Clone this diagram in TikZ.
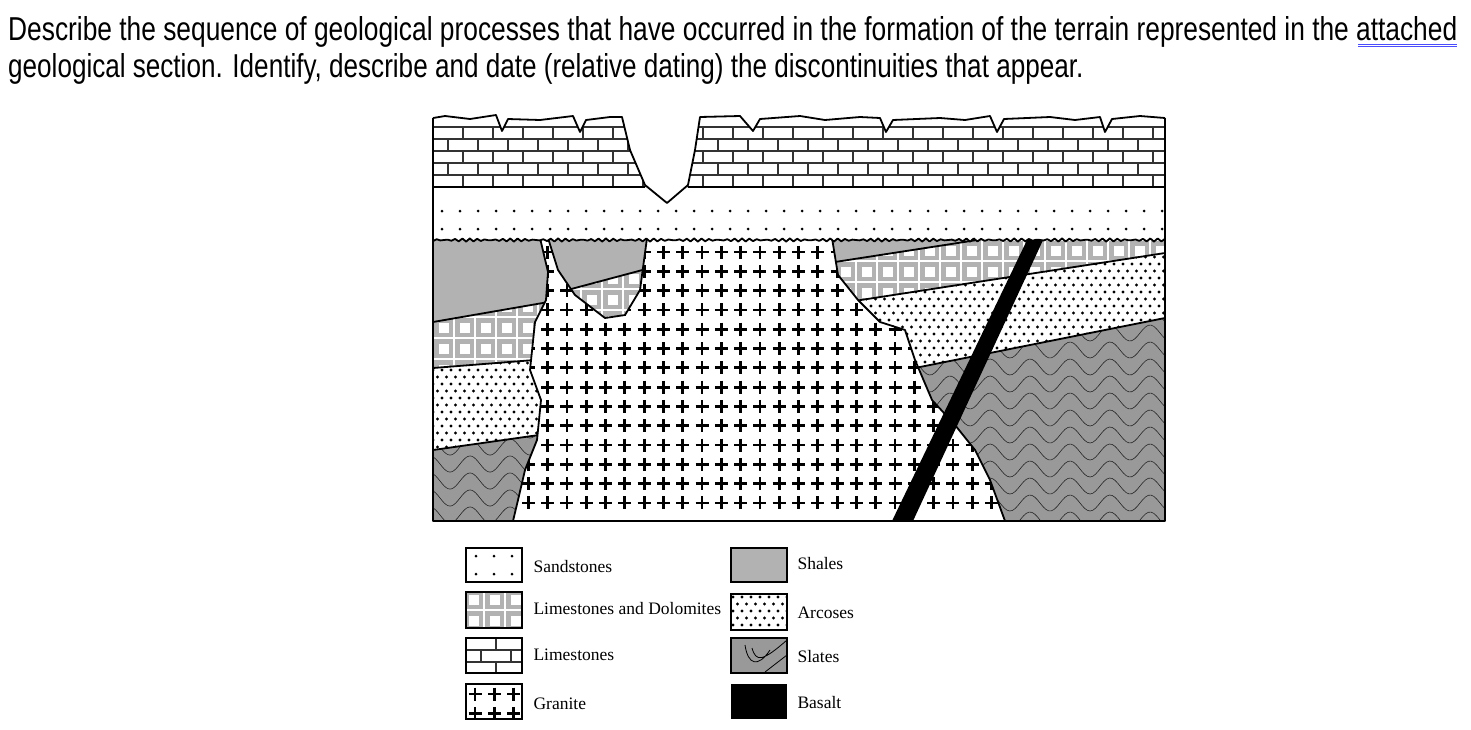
\documentclass[tikz,border=0pt]{standalone}
\usepackage{fontspec}
\setmainfont{Liberation Serif}
\newfontfamily\titlefont{Liberation Sans}
\newcommand\gsand[4]{\pgfmathtruncatemacro\gnx{(#3-#1)/18}\pgfmathtruncatemacro\gny{(#4-#2)/18}%
 \foreach \i in {0,...,\gnx}{\foreach \j in {0,...,\gny}{\fill ({#1+\i*18},{#2+\j*18}) circle (1.5);}}}
\newcommand\garc[4]{\pgfmathtruncatemacro\gnx{(#3-#1)/9}\pgfmathtruncatemacro\gny{(#4-#2)/7}%
 \foreach \j in {0,...,\gny}{\foreach \i in {0,...,\gnx}{\fill ({#1+\i*9+mod(\j,2)*4.5},{#2+\j*7}) circle (1.6);}}}
\newcommand\gbrick[4]{\pgfmathtruncatemacro\gnx{(#3-#1)/30+1}\pgfmathtruncatemacro\gny{(#4-#2)/12}%
 \foreach \j in {0,...,\gny}{\draw[brickline] (#1,{#2+\j*12}) -- (#3,{#2+\j*12});
 \foreach \i in {0,...,\gnx}{\draw[brickline] ({#1+\i*30+mod(\j,2)*15},{#2+\j*12}) -- ++(0,12);}}}
\newcommand\gcross[4]{\pgfmathtruncatemacro\gnx{(#3-#1)/19.3}\pgfmathtruncatemacro\gny{(#4-#2)/19.3}%
 \foreach \i in {0,...,\gnx}{\foreach \j in {0,...,\gny}{\draw[line width=2.8pt] ({#1+\i*19.3-6.5},{#2+\j*19.3}) -- ++(13,0) ({#1+\i*19.3},{#2+\j*19.3-6.5}) -- ++(0,13);}}}
\newcommand\gdolo[4]{\fill[shalegray] (#1,#2) rectangle (#3,#4);\pgfmathtruncatemacro\gnx{(#3-#1)/21+1}\pgfmathtruncatemacro\gny{(#4-#2)/21+1}%
 \foreach \i in {0,...,\gnx}{\draw[white,line width=2.5pt] ({#1+\i*21},#2) -- ({#1+\i*21},#4);}
 \foreach \j in {0,...,\gny}{\draw[white,line width=2.5pt] (#1,{#2+\j*21}) -- (#3,{#2+\j*21});}
 \foreach \i in {0,...,\gnx}{\foreach \j in {0,...,\gny}{\fill[white] ({#1+\i*21+5.5},{#2+\j*21+5.5}) rectangle ++(10,10);}}}
\newcommand\gslate[4]{\fill[slategray] (#1,#2) rectangle (#3,#4);\pgfmathtruncatemacro\gny{(#4-#2)/17+1}%
 \foreach \j in {0,...,\gny}{\draw[gray!30!black,line width=0.6pt] plot[domain=#1:#3,samples=120] (\x,{#2+\j*17+8*sin(mod(\x,40)*9)});}}
\definecolor{shalegray}{gray}{0.7}
\definecolor{slategray}{gray}{0.6}
\tikzset{brickline/.style={line width=1.4pt,black!80},
 bound/.style={line width=1.8pt,line join=round},
 legbox/.style={line width=2pt},
 legtxt/.style={anchor=west,font=\fontsize{17.5}{20}\selectfont}}
\begin{document}
\begin{tikzpicture}[x=1pt,y=-1pt]
\useasboundingbox (0,0) rectangle (1471,729);
\node[anchor=base west,inner sep=0] (t1) at (8,40) {\resizebox{1449pt}{24pt}{\titlefont Describe the sequence of geological processes that have occurred in the formation of the terrain represented in the attached}};
\node[anchor=base west,inner sep=0] (t2) at (8,77) {\resizebox{1075pt}{24pt}{\titlefont geological section. Identify, describe and date (relative dating) the discontinuities that appear.}};
\draw[blue!70,line width=0.7pt] (1358,44) -- (1457,44) (1358,46.5) -- (1457,46.5);
% left zone
\begin{scope}
\clip (433,238) -- (540,238) -- (548,272) -- (546,300) -- (535,322) -- (530,370) -- (541,400) -- (537,440) -- (525,470) -- (518,500) -- (513,521) -- (433,521) -- cycle;
\fill[shalegray] (433,238) rectangle (560,521);
\begin{scope}\clip (433,322) -- (560,300) -- (560,358) -- (433,368) -- cycle; \gdolo{433}{296}{560}{370}\end{scope}
\begin{scope}\clip (433,368) -- (560,358) -- (560,432) -- (433,450) -- cycle; \fill[white] (433,355) rectangle (560,452); \garc{433}{356}{560}{452}\end{scope}
\begin{scope}\clip (433,450) -- (560,432) -- (560,521) -- (433,521) -- cycle; \gslate{433}{430}{560}{521}\end{scope}
\draw[bound] (433,322) -- (560,300) (433,368) -- (560,358) (433,450) -- (560,432);
\end{scope}
% right zone
\begin{scope}
\clip (832,238) -- (838,275) -- (858,300) -- (880,322) -- (905,330) -- (915,360) -- (932,400) -- (955,425) -- (975,450) -- (990,480) -- (1005,521) -- (1165,521) -- (1165,238) -- cycle;
\fill[shalegray] (830,238) rectangle (1165,521);
\begin{scope}\clip (835,262) -- (990,238) -- (1165,238) -- (1165,253) -- (835,304) -- cycle; \gdolo{835}{240}{1165}{306}\end{scope}
\begin{scope}\clip (835,304) -- (1165,253) -- (1165,318) -- (835,384) -- cycle; \fill[white] (835,250) rectangle (1165,386); \garc{835}{250}{1165}{386}\end{scope}
\begin{scope}\clip (835,384) -- (1165,318) -- (1165,521) -- (835,521) -- cycle; \gslate{835}{316}{1165}{521}\end{scope}
\draw[bound] (835,262) -- (990,238) (835,304) -- (1165,253) (835,384) -- (1165,318);
\end{scope}
% granite
\begin{scope}
\clip (540,238) -- (548,272) -- (546,300) -- (535,322) -- (530,370) -- (541,400) -- (537,440) -- (525,470) -- (518,500) -- (513,521) -- (1005,521) -- (990,480) -- (975,450) -- (955,425) -- (932,400) -- (915,360) -- (905,330) -- (880,322) -- (858,300) -- (838,275) -- (832,238) -- cycle;
\fill[white] (510,238) rectangle (1010,521);
\gcross{509}{252}{1010}{521}
\end{scope}
\draw[bound] (540,238) -- (548,272) -- (546,300) -- (535,322) -- (530,370) -- (541,400) -- (537,440) -- (525,470) -- (518,500) -- (513,521);
\draw[bound] (1005,521) -- (990,480) -- (975,450) -- (955,425) -- (932,400) -- (915,360) -- (905,330) -- (880,322) -- (858,300) -- (838,275) -- (832,238);
% pocket
\begin{scope}
\clip (548,238) -- (558,270) -- (575,295) -- (605,318) -- (625,315) -- (640,290) -- (647,238) -- cycle;
\fill[shalegray] (545,236) rectangle (650,320);
\begin{scope}\clip (560,292) -- (650,268) -- (650,320) -- (560,320) -- cycle; \gdolo{560}{268}{650}{322}\end{scope}
\draw[bound] (560,292) -- (650,268);
\end{scope}
\draw[bound] (548,238) -- (558,270) -- (575,295) -- (605,318) -- (625,315) -- (640,290) -- (647,238);
% basalt
\fill (1028,238) -- (1044,238) -- (913,521) -- (892,521) -- cycle;
% sandstone band
\begin{scope}
\fill[white] (433,187) -- (1165,187) -- plot[domain=1165:433,samples=200] (\x,{240+1.6*sin(mod(\x,8)*45)}) -- cycle;
\clip (433,187) -- (1165,187) -- plot[domain=1165:433,samples=200] (\x,{240+1.6*sin(mod(\x,8)*45)}) -- cycle;
\gsand{442}{211}{1165}{230}
\end{scope}
\draw[bound] plot[domain=433:1165,samples=200] (\x,{240+1.6*sin(mod(\x,8)*45)});
% limestone
\def\lstop{(433,118) -- (445,116) -- (470,119) -- (496,115) -- (502,131) -- (508,119) -- (540,120) -- (573,116) -- (580,132) -- (586,120) -- (610,117) -- (622,117) -- (630,150) -- (645,185) -- (667,203) -- (688,185) -- (695,150) -- (700,117) -- (740,116) -- (753,131) -- (760,119) -- (800,116) -- (825,120) -- (860,117) -- (880,118) -- (886,132) -- (893,120) -- (940,118) -- (965,120) -- (990,116) -- (997,132) -- (1004,119) -- (1050,117) -- (1075,120) -- (1100,117) -- (1105,132) -- (1112,119) -- (1140,116) -- (1165,118)}
\begin{scope}
\clip \lstop -- (1165,187) -- (433,187) -- cycle;
\fill[white] (433,110) rectangle (1165,187);
\gbrick{433}{127}{1165}{187}
\end{scope}
\fill[white] (645,185) -- (667,203) -- (688,185) -- cycle;
\draw[bound] \lstop;
\draw[bound] (433,187) -- (645,187) (688,187) -- (1165,187);
\draw[bound] (433,118) -- (433,521) -- (1165,521) -- (1165,118);
% legend
\begin{scope}\clip (466,548) rectangle (522,582); \fill[white] (466,548) rectangle (522,582); \gsand{476}{556}{522}{582}\end{scope}
\begin{scope}\clip (466,592) rectangle (522,628); \gdolo{463}{589}{525}{630}\end{scope}
\begin{scope}\clip (466,638) rectangle (522,673); \fill[white] (466,638) rectangle (522,673); \gbrick{466}{638}{522}{673}\end{scope}
\begin{scope}\clip (466,684) rectangle (522,719); \fill[white] (466,684) rectangle (522,719); \gcross{475}{694}{522}{719}\end{scope}
\fill[shalegray] (731,548) rectangle (787,582);
\begin{scope}\clip (731,594) rectangle (787,630); \fill[white] (731,594) rectangle (787,630); \garc{733}{597}{787}{630}\end{scope}
\begin{scope}\clip (731,638) rectangle (787,673); \fill[slategray] (731,638) rectangle (787,673);
\draw[black,line width=0.8pt] (745,645) .. controls (748,665) and (758,668) .. (770,650) (752,648) .. controls (756,662) and (762,662) .. (787,640) (765,672) -- (787,655);\end{scope}
\fill (731,684) rectangle (787,719);
\draw[legbox] (466,548) rectangle (522,582) (466,592) rectangle (522,628) (466,638) rectangle (522,673) (466,684) rectangle (522,719);
\draw[legbox] (731,548) rectangle (787,582) (731,594) rectangle (787,630) (731,638) rectangle (787,673);
\node[legtxt] (ls) at (530,567) {Sandstones};
\node[legtxt] (lld) at (530,609) {Limestones and Dolomites};
\node[legtxt] (lli) at (530,655) {Limestones};
\node[legtxt] (lg) at (530,704) {Granite};
\node[legtxt] (lsh) at (794,564) {Shales};
\node[legtxt] (lar) at (794,613) {Arcoses};
\node[legtxt] (lsl) at (794,656) {Slates};
\node[legtxt] (lba) at (794,702) {Basalt};
\end{tikzpicture}
\end{document}
